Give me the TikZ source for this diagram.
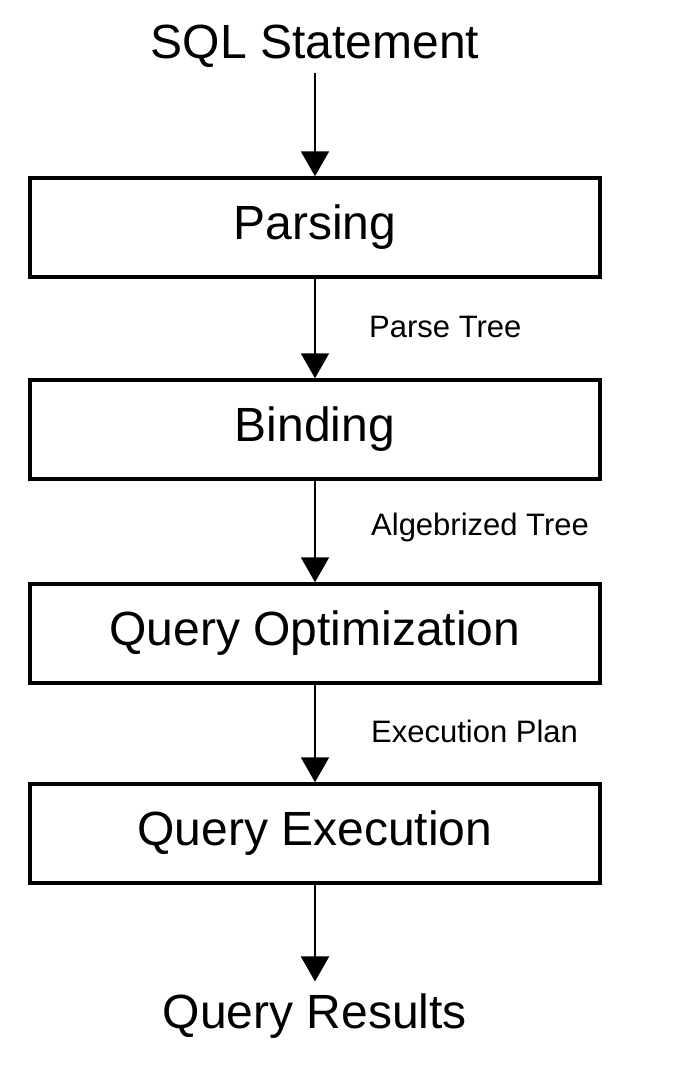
\documentclass[tikz,border=0pt]{standalone}
\usepackage{fontspec}
\setmainfont{Liberation Sans}
\usetikzlibrary{arrows.meta}
\begin{document}
\begin{tikzpicture}[x=1pt,y=1pt,
  stagebox/.style={draw=black,line width=3.5pt,minimum width=570pt,minimum height=99pt,inner sep=0pt,font=\fontsize{48}{56}\selectfont},
  endtext/.style={inner sep=0pt,font=\fontsize{48}{56}\selectfont},
  lbl/.style={anchor=west,inner sep=0pt,font=\fontsize{31}{36}\selectfont},
  flow/.style={line width=2pt,-{Triangle[width=28pt,length=25pt]}}]
\useasboundingbox (0,0) rectangle (680,-1088);
\node[endtext] (sql) at (315,-46) {SQL Statement};
\node[stagebox] (parse) at (315,-227.5) {Parsing};
\node[stagebox] (bind) at (315,-429.5) {Binding};
\node[stagebox] (opt) at (315,-633.5) {Query Optimization};
\node[stagebox] (exec) at (315,-833.5) {Query Execution};
\node[endtext] (res) at (315,-1016) {Query Results};
\node[lbl] (l1) at (369,-327) {Parse Tree};
\node[lbl] (l2) at (371,-527) {Algebrized Tree};
\node[lbl] (l3) at (371,-731) {Execution Plan};
\draw[flow] ([yshift=-6pt]sql.south) -- (parse.north);
\draw[flow] (parse.south) -- (bind.north);
\draw[flow] (bind.south) -- (opt.north);
\draw[flow] (opt.south) -- (exec.north);
\draw[flow] (exec.south) -- ([yshift=12pt]res.north);
\end{tikzpicture}
\end{document}
